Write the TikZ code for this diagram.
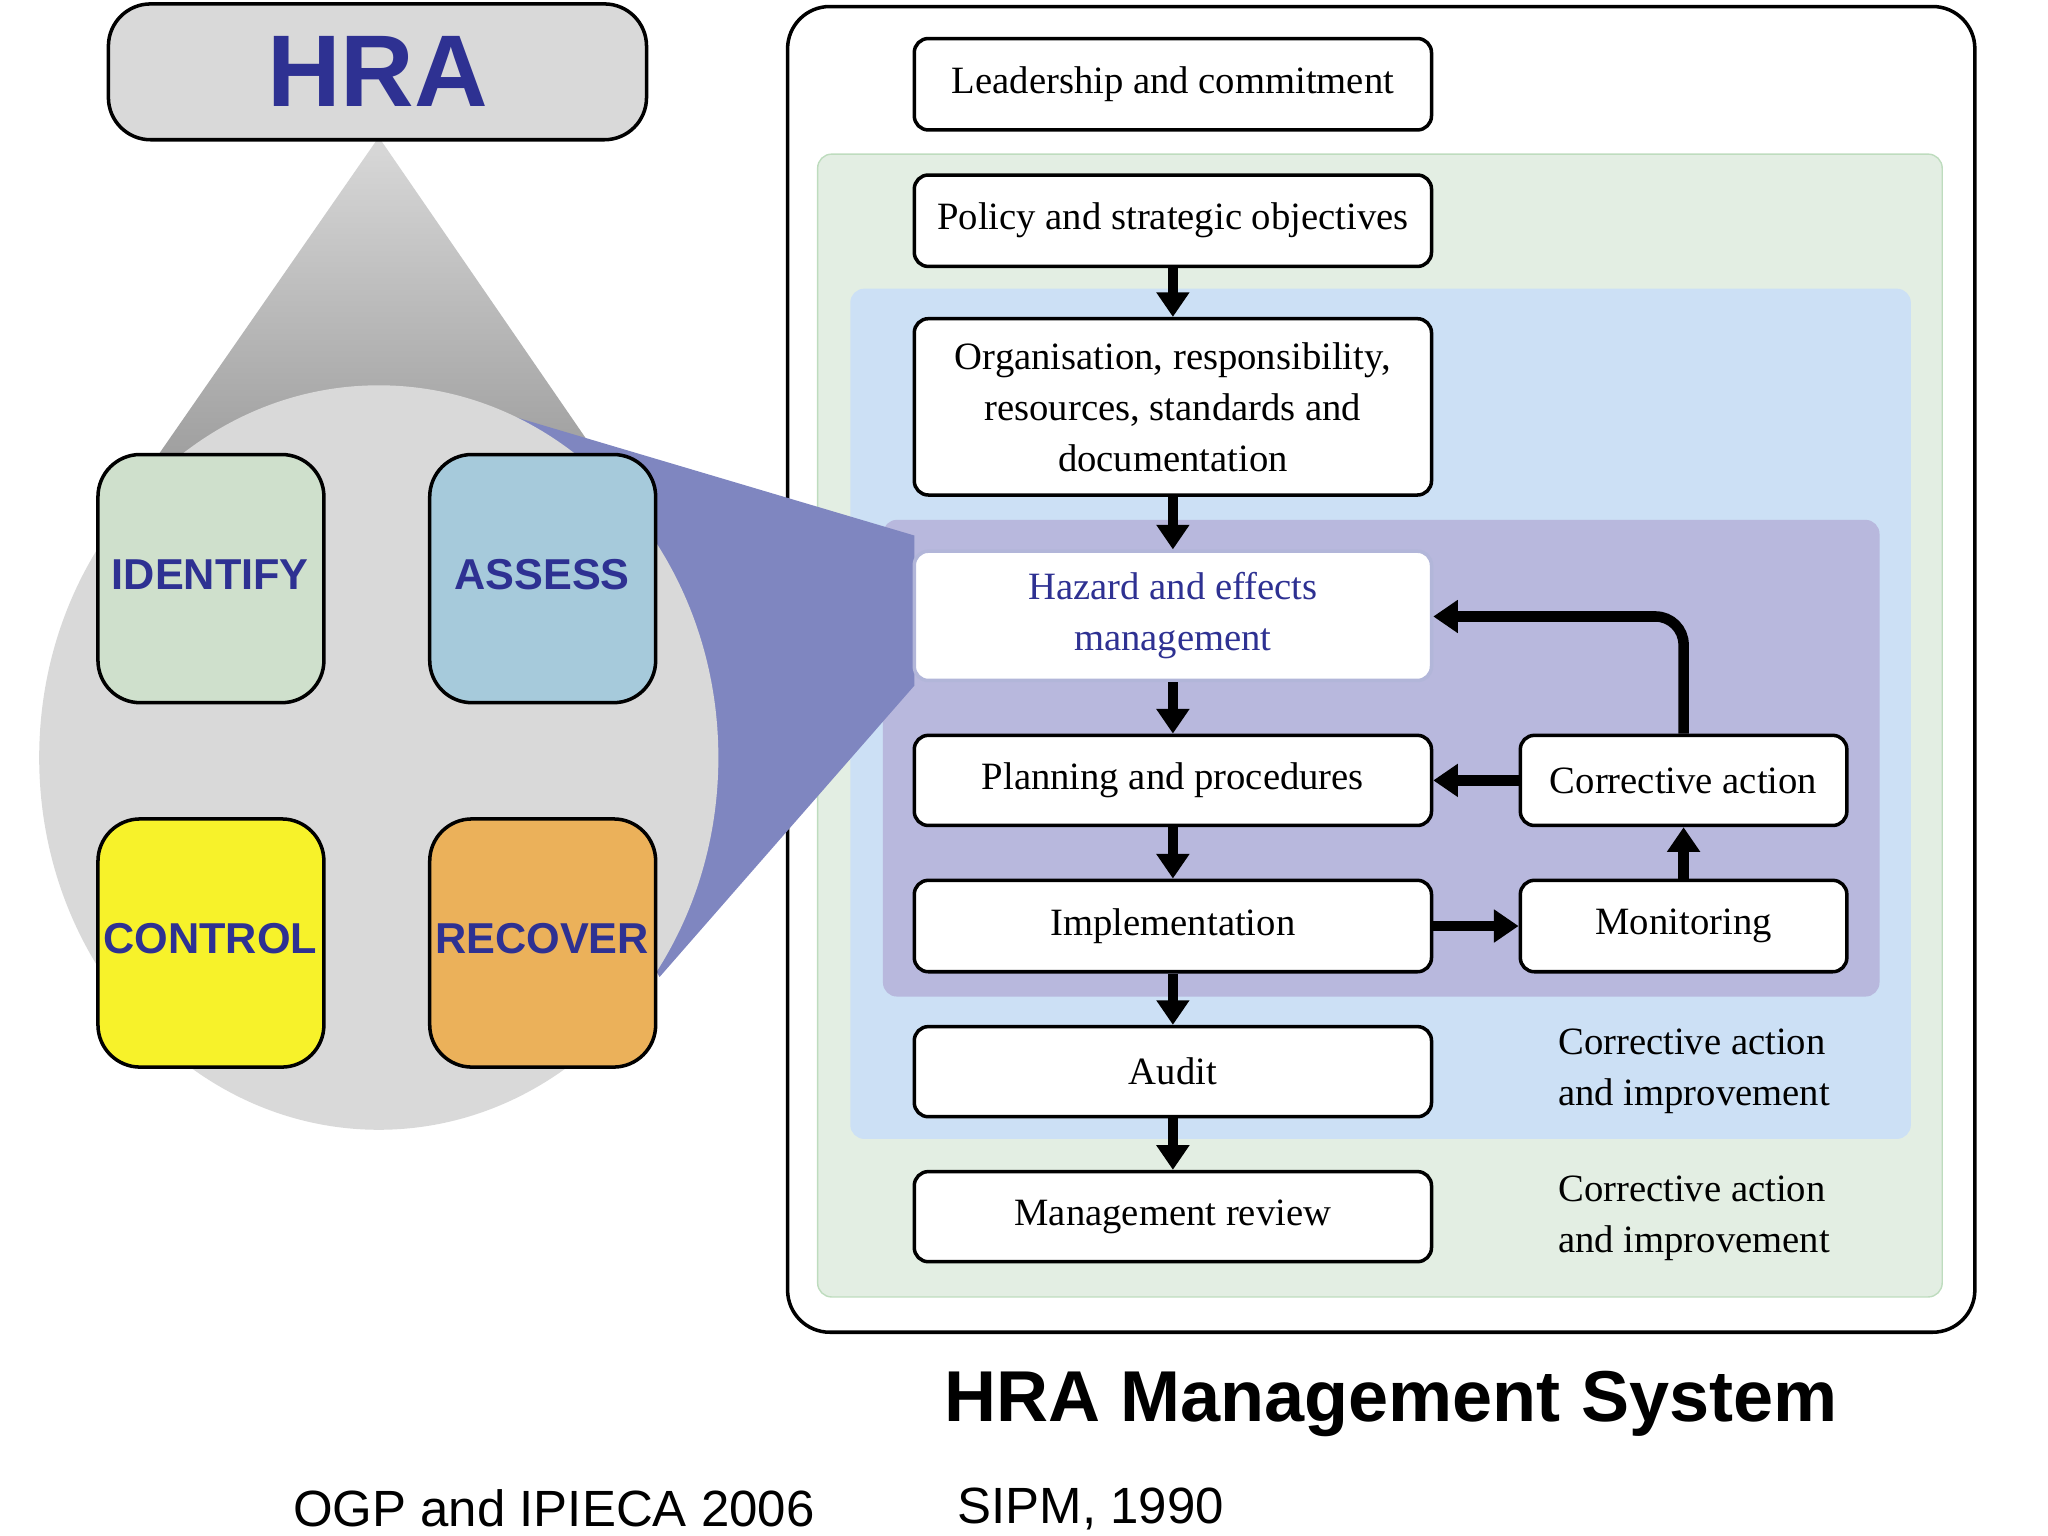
\documentclass[tikz,border=0pt]{standalone}
\usepackage{fontspec}
\setmainfont{Liberation Serif}
\newfontfamily\sansf{Liberation Sans}
\usetikzlibrary{arrows.meta,shadings}
\definecolor{hrablue}{HTML}{2E3192}
\definecolor{wedge}{HTML}{7F86C0}
\definecolor{cgreen}{RGB}{227,238,227}
\definecolor{cgreenb}{RGB}{190,220,190}
\definecolor{cblue}{RGB}{204,224,245}
\definecolor{cpurp}{RGB}{184,184,221}
\definecolor{cid}{RGB}{207,224,204}
\definecolor{cas}{RGB}{166,202,219}
\definecolor{cco}{RGB}{247,242,42}
\definecolor{cre}{RGB}{235,177,90}
\begin{document}
\begin{tikzpicture}[x=0.01306cm,y=-0.01306cm,
  sb/.style={draw=black,line width=1pt,rounded corners=4pt,fill=white,align=center,font=\fontsize{11}{14.5}\selectfont},
  qb/.style={draw=black,line width=1pt,rounded corners=12pt},
  ql/.style={font=\sansf\bfseries\fontsize{12.3}{14}\selectfont,text=hrablue},
  ar/.style={-{Triangle[length=7pt,width=9pt]},line width=3pt}]
\useasboundingbox (0,0) rectangle (1568,1176);
% right frame backgrounds
\draw[line width=1pt,rounded corners=12pt] (603,5) rectangle (1512,1020);
\draw[draw=cgreenb,fill=cgreen,rounded corners=4pt] (626,118) rectangle (1487,993);
\fill[cblue,rounded corners=4pt] (651,221) rectangle (1463,872);
\fill[cpurp,rounded corners=4pt] (676,398) rectangle (1439,763);
% left
\shade[top color=gray!30,bottom color=gray!75] (290,105) -- (120,350) -- (455,345) -- cycle;
\fill[wedge] (390,318) -- (700,410) -- (700,525) -- (505,748) -- (420,600) -- (420,400) -- cycle;
\fill[gray!30] (290,580) ellipse [x radius=260,y radius=285];
\node[qb,fill=gray!30,minimum width=412*0.01306cm,minimum height=104*0.01306cm] (hra) at (289,55) {};
\node[font=\sansf\bfseries\fontsize{29}{32}\selectfont,text=hrablue] at (289,55) {HRA};
\draw[qb,fill=cid] (75,348) rectangle (248,538);
\node[ql] (id) at (161,440) {IDENTIFY};
\draw[qb,fill=cas] (329,348) rectangle (502,538);
\node[ql] (as) at (415,440) {ASSESS};
\draw[qb,fill=cco] (75,627) rectangle (248,817);
\node[ql] (co) at (161,719) {CONTROL};
\draw[qb,fill=cre] (329,627) rectangle (502,817);
\node[ql] (re) at (415,719) {RECOVER};
\newcommand{\bx}[5]{\node[sb,minimum width=396*0.01306cm,minimum height=#4*0.01306cm,#5] (#1) at (898,#2) {#3};}
\bx{lead}{64.5}{Leadership and commitment}{70}{}
\bx{pol}{169}{Policy and strategic objectives}{70}{}
\bx{org}{311.5}{Organisation, responsibility,\\resources, standards and\\documentation}{135}{}
\bx{haz}{471.5}{Hazard and effects\\management}{99}{text=hrablue,draw=wedge!60}
\bx{plan}{597.5}{Planning and procedures}{69}{}
\bx{impl}{709}{Implementation}{70}{}
\bx{aud}{820.5}{Audit}{69}{}
\bx{mgmt}{931.5}{Management review}{69}{}
\node[sb,minimum width=250*0.01306cm,minimum height=69*0.01306cm] (corr) at (1289,597.5) {Corrective action};
\node[sb,minimum width=250*0.01306cm,minimum height=70*0.01306cm] (mon) at (1289,709) {Monitoring};
\draw[ar] (pol) -- (org);
\draw[ar] (org) -- (haz);
\draw[ar] (haz) -- (plan);
\draw[ar] (plan) -- (impl);
\draw[ar] (impl) -- (aud);
\draw[ar] (aud) -- (mgmt);
\draw[ar] (impl) -- (mon);
\draw[ar] (mon) -- (corr);
\draw[ar] (corr) -- (plan);
\draw[ar,rounded corners=8pt] (corr.north) |- (haz.east |- 0,472);
\node[align=left,font=\fontsize{11}{14.5}\selectfont] (t1) at (1297,820) {Corrective action\\and improvement};
\node[align=left,font=\fontsize{11}{14.5}\selectfont] (t2) at (1297,933) {Corrective action\\and improvement};
\node[font=\sansf\bfseries\fontsize{20.5}{24}\selectfont] (title) at (1065,1075) {HRA Management System};
\node[font=\sansf\fontsize{14.5}{16}\selectfont] (s1) at (424,1155) {OGP and IPIECA 2006};
\node[font=\sansf\fontsize{14.5}{16}\selectfont] (s2) at (835,1155) {SIPM, 1990};
\end{tikzpicture}
\end{document}
